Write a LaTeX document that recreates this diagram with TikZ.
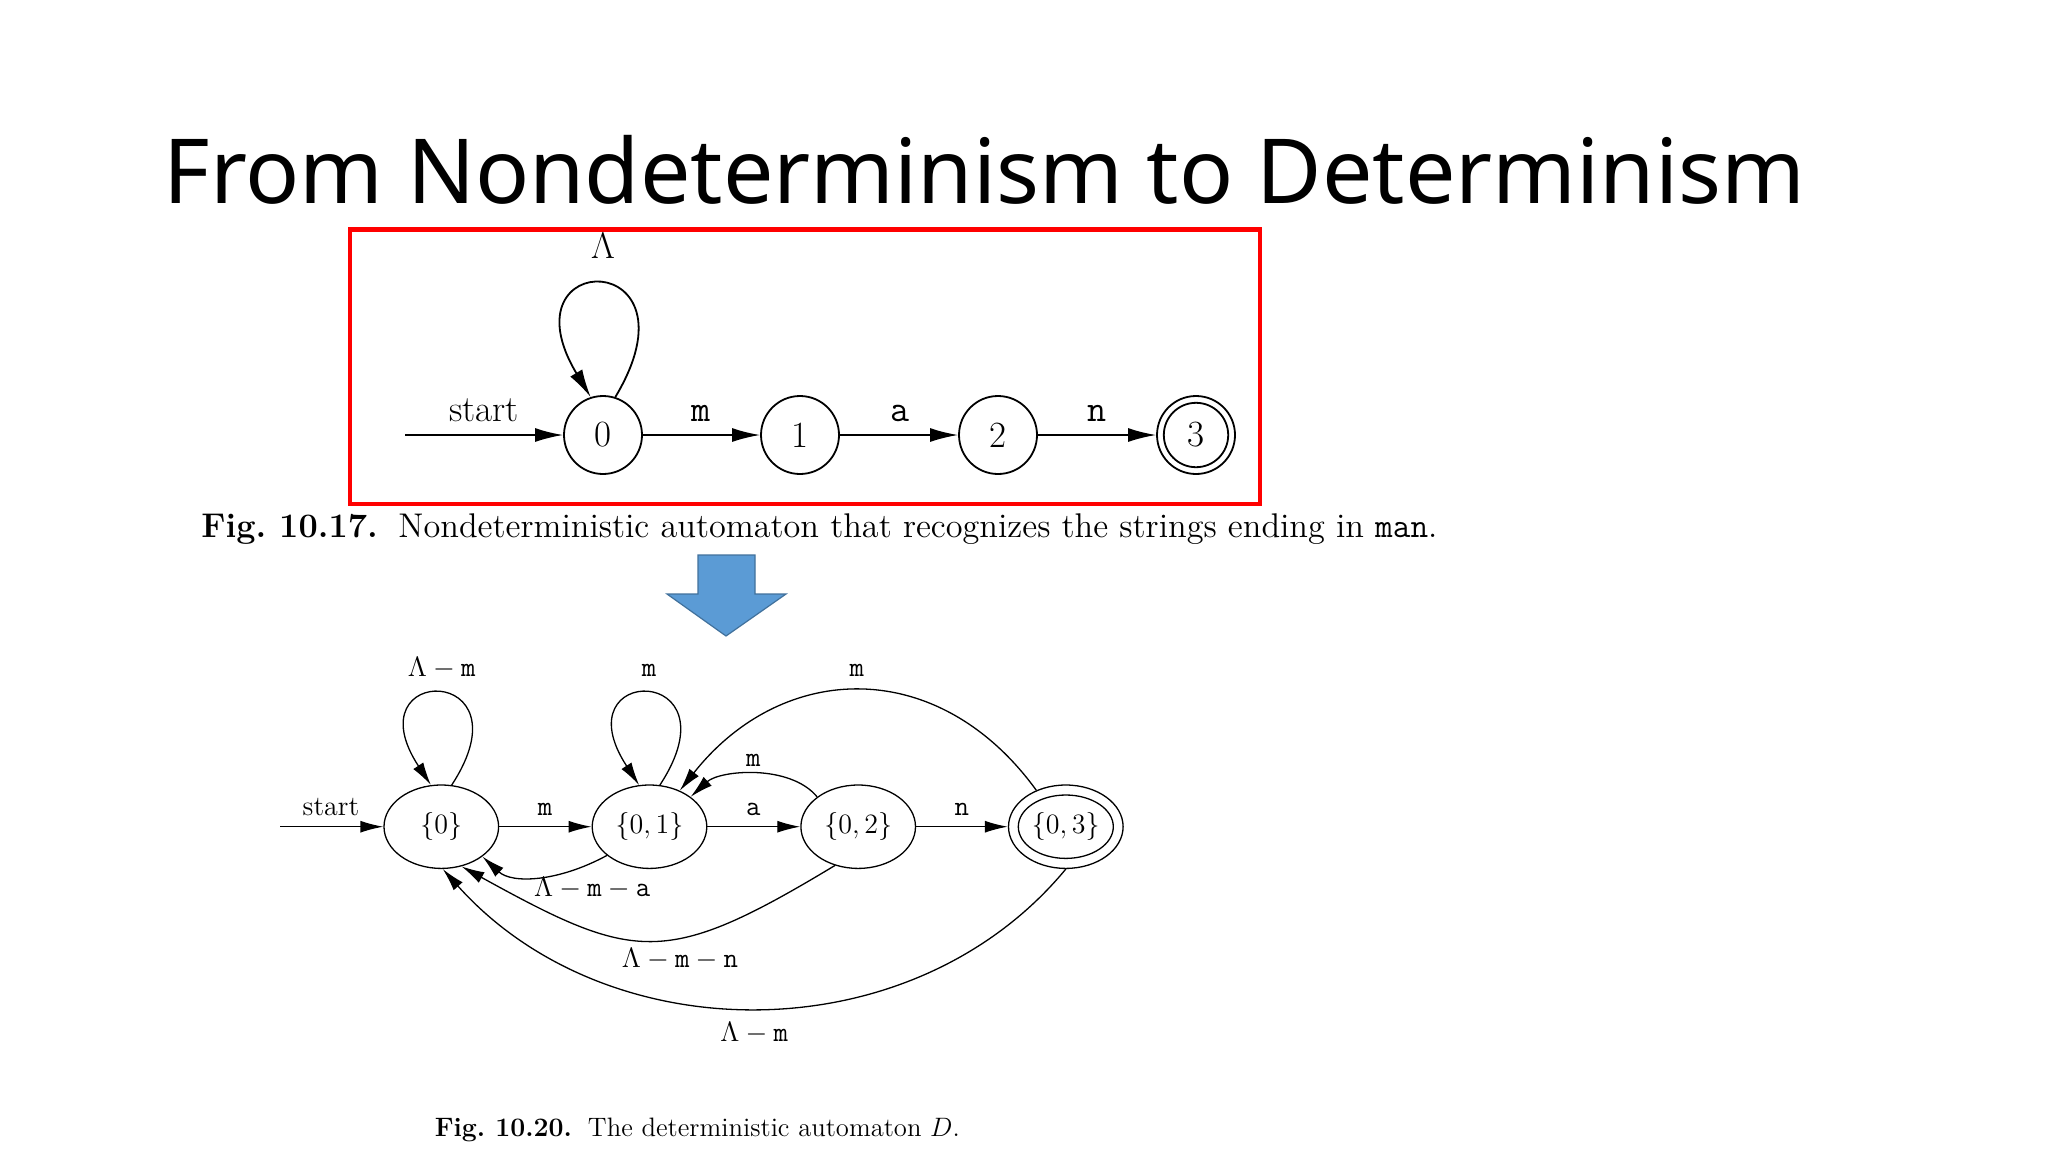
\RequirePackage{fix-cm}
\documentclass[tikz,border=0pt]{standalone}
\usepackage{fontspec}
\newfontfamily\titlefont{Noto Sans}
\usetikzlibrary{arrows.meta,shapes.geometric}
\definecolor{arrowblue}{HTML}{5B9BD5}
\definecolor{arrowedge}{HTML}{41719C}
\begin{document}
\begin{tikzpicture}[x=0.5pt,y=-0.5pt,
  nstate/.style={circle,draw,line width=0.9pt,minimum size=39pt,inner sep=0pt,font=\fontsize{18.5}{22}\selectfont},
  nedge/.style={-{Latex[length=14pt,width=7pt]},line width=0.9pt},
  nlab/.style={anchor=base,inner sep=0pt,font=\fontsize{18.5}{22}\selectfont},
  dstate/.style={ellipse,draw,line width=0.65pt,minimum width=57.3pt,minimum height=41.7pt,inner sep=0pt,font=\fontsize{14}{17}\selectfont},
  dedge/.style={-{Latex[length=11.5pt,width=6pt]},line width=0.65pt},
  dlab/.style={anchor=base,inner sep=0pt,font=\fontsize{14}{17}\selectfont},
  captext/.style={anchor=base west,inner sep=0pt}
]
\fill[white] (0,0) rectangle (2048,1152);
\useasboundingbox (0,0) rectangle (2048,1152);

% title
\node[captext] (title) at (163.3,203.3) {\resizebox{820.8pt}{!}{\titlefont\fontsize{48}{58}\selectfont From Nondeterminism to Determinism}};

% red frame
\draw[red, line width=2.2pt] (350,229.5) rectangle (1260,504);

% NFA
\node[nstate] (n0) at (603,435) {0};
\node[nstate] (n1) at (800,435) {1};
\node[nstate] (n2) at (998,435) {2};
\node[nstate] (n3) at (1196,435) {3};
\draw[line width=0.9pt] (n3.center) circle[radius=16.1pt];
\coordinate (ns) at (405,435);
\draw[nedge] (ns) -- (n0);
\draw[nedge] (n0) -- (n1);
\draw[nedge] (n1) -- (n2);
\draw[nedge] (n2) -- (n3);
\draw[nedge] (n0.72) .. controls +(90,-150) and +(-90,-150) .. (n0.108);
\node[nlab] (lstart) at (484,421.7) {start};
\node[nlab] (lm) at (701.5,421.7) {\texttt{m}};
\node[nlab] (la) at (900,421.7) {\texttt{a}};
\node[nlab] (ln) at (1097,421.7) {\texttt{n}};
\node[nlab] (llam) at (603,258) {$\Lambda$};

% caption 1
\node[captext] (cap1) at (201,537.5) {\resizebox{618pt}{!}{\fontsize{14}{17}\selectfont\textbf{Fig.\ 10.17.}\hspace{0.6em}Nondeterministic automaton that recognizes the strings ending in \texttt{man}.}};

% blue arrow
\draw[fill=arrowblue, draw=arrowedge, line width=0.6pt] (698,555) -- (755,555) -- (755,594) -- (786,594) -- (726,636) -- (667,594) -- (698,594) -- cycle;

% DFA
\node[dstate] (d0) at (441.3,826.7) {$\{0\}$};
\node[dstate] (d1) at (649.5,826.7) {$\{0,1\}$};
\node[dstate] (d2) at (858.2,826.7) {$\{0,2\}$};
\node[dstate] (d3) at (1065.8,826.7) {$\{0,3\}$};
\draw[line width=0.65pt] (d3.center) ellipse[x radius=23.75pt, y radius=15.85pt];
\coordinate (ds) at (280,826.7);
\draw[dedge] (ds) -- (d0);
\draw[dedge] (d0) -- (d1);
\draw[dedge] (d1) -- (d2);
\draw[dedge] (d2) -- (d3);
\draw[dedge] (d0.76) .. controls +(80,-122) and +(-80,-122) .. (d0.104);
\draw[dedge] (d1.76) .. controls +(80,-122) and +(-80,-122) .. (d1.104);
\draw[dedge] (d2.144) .. controls (790,764) and (720,770) .. (d1.36);
\draw[dedge] (d3.129) .. controls (939,656) and (783,660) .. (d1.50);
\draw[dedge] (d1.214.5) .. controls (558,882) and (512,884) .. (d0.324);
\draw[dedge] (d2.239) .. controls (665,968) and (635,962) .. (d0.297);
\draw[dedge] (d3.270) .. controls (912,1055) and (607,1053) .. (d0.272);

\node[dlab] (dlstart) at (331,815.7) {start};
\node[dlab] (dlm) at (545,815.7) {\texttt{m}};
\node[dlab] (dla) at (753.3,815.7) {\texttt{a}};
\node[dlab] (dln) at (961.7,815.7) {\texttt{n}};
\node[dlab] (dl0) at (441.7,676.7) {$\Lambda - \texttt{m}$};
\node[dlab] (dl1) at (649,676.7) {\texttt{m}};
\node[dlab] (dlbig) at (856.7,676.7) {\texttt{m}};
\node[dlab] (dlsmall) at (753.3,766) {\texttt{m}};
\node[dlab] (dlma) at (592.2,896) {$\Lambda - \texttt{m} - \texttt{a}$};
\node[dlab] (dlmn) at (680,967.7) {$\Lambda - \texttt{m} - \texttt{n}$};
\node[dlab] (dlm3) at (754.2,1041) {$\Lambda - \texttt{m}$};

% caption 2
\node[captext] (cap2) at (434.4,1136.7) {\resizebox{262.5pt}{!}{\fontsize{14}{17}\selectfont\textbf{Fig.\ 10.20.}\hspace{0.6em}The deterministic automaton $D$.}};
\end{tikzpicture}
\end{document}
